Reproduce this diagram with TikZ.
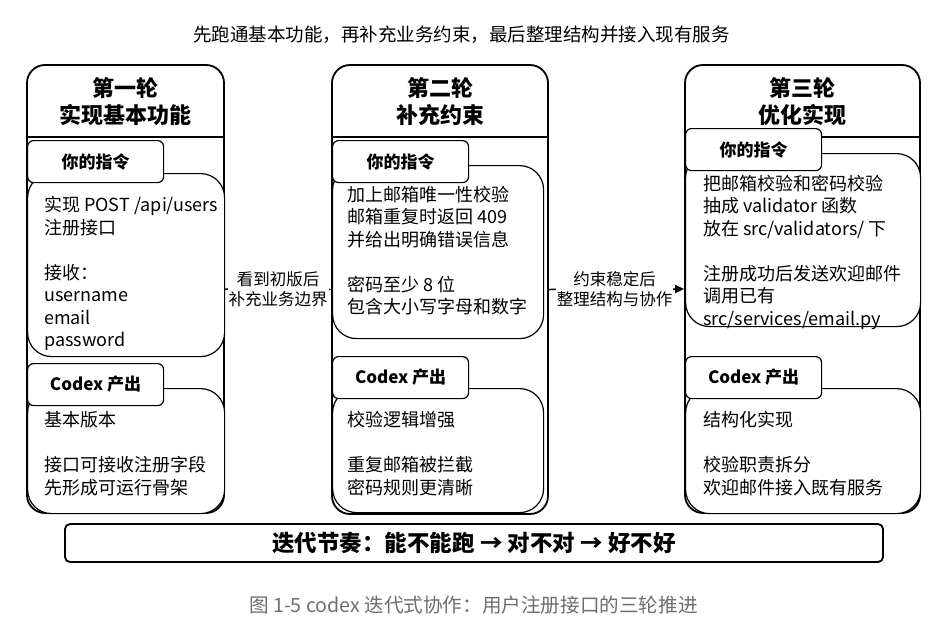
\documentclass[tikz,border=0pt]{standalone}
\usepackage{fontspec}
\setmainfont{Noto Sans CJK SC}
\usetikzlibrary{arrows.meta}
\definecolor{capgray}{RGB}{110,110,110}
\tikzset{
  colbox/.style={draw, line width=1.8pt, rounded corners=18pt, inner sep=0pt},
  tabbox/.style={draw, line width=1.2pt, fill=white, rounded corners=6pt, anchor=north west, inner sep=0pt,
    minimum width=136pt, minimum height=42pt, font=\fontsize{17}{20}\selectfont\bfseries},
  contentbox/.style={draw, line width=1.2pt, fill=white, rounded corners=24pt, anchor=north west, inner sep=0pt},
  coltitle/.style={align=center, inner sep=0pt, font=\fontsize{22}{27}\selectfont\bfseries},
  bodytext/.style={align=left, anchor=base west, inner sep=0pt, font=\fontsize{18}{22.5}\selectfont},
  arrlabel/.style={fill=white, align=center, inner sep=1pt, font=\fontsize{16.5}{19.5}\selectfont},
  flow/.style={line width=1.5pt, -{Triangle[length=9pt,width=8pt]}}
}
\begin{document}
\begin{tikzpicture}[x=1pt,y=-1pt]
\useasboundingbox (0,0) rectangle (949,624);
\fill[white] (0,0) rectangle (949,624);

% top title
\node[inner sep=0pt, font=\fontsize{18.5}{22}\selectfont] (toptitle) at (461.5,35) {先跑通基本功能，再补充业务约束，最后整理结构并接入现有服务};

% columns
\node[colbox, minimum width=197pt, minimum height=448pt] (c1) at (125.5,289) {};
\node[colbox, minimum width=216pt, minimum height=449pt] (c2) at (440,289.5) {};
\node[colbox, minimum width=235pt, minimum height=448pt] (c3) at (802.5,289) {};
\draw[line width=1.8pt] (c1.west |- 0,137) -- (c1.east |- 0,137);
\draw[line width=1.8pt] (c2.west |- 0,137) -- (c2.east |- 0,137);
\draw[line width=1.8pt] (c3.west |- 0,137) -- (c3.east |- 0,137);

\node[coltitle] (t1) at (125.5,102) {第一轮\\实现基本功能};
\node[coltitle] (t2) at (440,102) {第二轮\\补充约束};
\node[coltitle] (t3) at (802.5,102) {第三轮\\优化实现};

% column 1
\node[contentbox, minimum width=197pt, minimum height=183pt] (b11) at (27,173) {};
\node[contentbox, minimum width=197pt, minimum height=125pt] (b12) at (27,388) {};
\node[tabbox] (p11) at (27,140) {你的指令};
\node[tabbox] (p12) at (27,363) {Codex 产出};
\node[bodytext] (x11) at (44,346.5) {实现 POST /api/users\\注册接口\\[22.5pt]接收：\\username\\email\\password};
\node[bodytext] (x12) at (44,494) {基本版本\\[22.5pt]接口可接收注册字段\\先形成可运行骨架};

% column 2
\node[contentbox, minimum width=211pt, minimum height=173pt] (b21) at (332,165) {};
\node[contentbox, minimum width=211pt, minimum height=124pt] (b22) at (332,388) {};
\node[tabbox] (p21) at (332,140) {你的指令};
\node[tabbox] (p22) at (332,356) {Codex 产出};
\node[bodytext] (x21) at (347,313.5) {加上邮箱唯一性校验\\邮箱重复时返回 409\\并给出明确错误信息\\[22.5pt]密码至少 8 位\\包含大小写字母和数字};
\node[bodytext] (x22) at (347,494) {校验逻辑增强\\[22.5pt]重复邮箱被拦截\\密码规则更清晰};

% column 3
\node[contentbox, minimum width=235pt, minimum height=173pt] (b31) at (685,153) {};
\node[contentbox, minimum width=235pt, minimum height=125pt] (b32) at (685,388) {};
\node[tabbox] (p31) at (685,128) {你的指令};
\node[tabbox] (p32) at (685,356) {Codex 产出};
\node[bodytext] (x31) at (703,325) {把邮箱校验和密码校验\\抽成 validator 函数\\放在 src/validators/ 下\\[22.5pt]注册成功后发送欢迎邮件\\调用已有\\src/services/email.py};
\node[bodytext] (x32) at (703,494) {结构化实现\\[22.5pt]校验职责拆分\\欢迎邮件接入既有服务};

% connectors
\draw[flow] (c1.east) -- node[arrlabel] (l1) {看到初版后\\补充业务边界} (c2.west);
\draw[flow] (c2.east) -- node[arrlabel, xshift=-2pt] (l2) {约束稳定后\\整理结构与协作} (c3.west);

% bottom box
\node[draw, line width=1.8pt, rounded corners=5pt, minimum width=818pt, minimum height=38pt, inner sep=0pt,
  font=\fontsize{22.5}{26}\selectfont\bfseries] (rhythm) at (474,543) {迭代节奏：能不能跑 → 对不对 → 好不好};

% caption
\node[inner sep=0pt, text=capgray, font=\fontsize{19.6}{22}\selectfont] (caption) at (473.5,605) {图 1-5 codex 迭代式协作：用户注册接口的三轮推进};
\end{tikzpicture}
\end{document}
